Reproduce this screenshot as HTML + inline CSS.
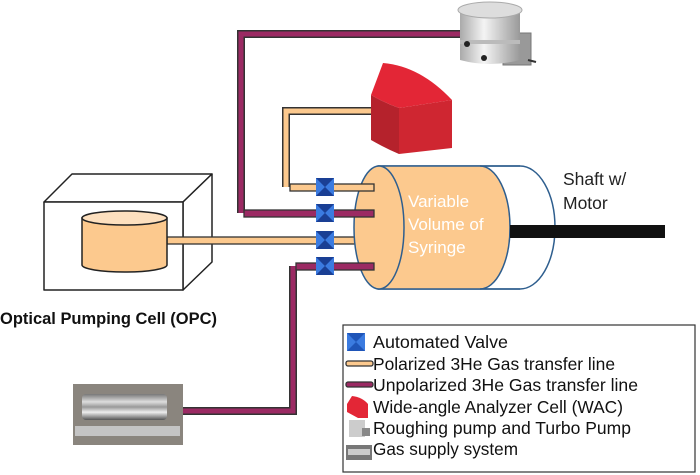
<!DOCTYPE html>
<html><head><meta charset="utf-8"><style>
html,body{margin:0;padding:0;background:#fff;}
svg{display:block;}
text{font-family:"Liberation Sans",sans-serif;}
</style></head><body>
<svg width="700" height="475" viewBox="0 0 700 475" xmlns="http://www.w3.org/2000/svg">
<defs>
<linearGradient id="metal" x1="0" y1="0" x2="0" y2="1">
<stop offset="0" stop-color="#777"/><stop offset="0.3" stop-color="#ddd"/><stop offset="0.5" stop-color="#999"/><stop offset="0.7" stop-color="#eee"/><stop offset="1" stop-color="#555"/></linearGradient>
<linearGradient id="pump" x1="0" y1="0" x2="1" y2="0">
<stop offset="0" stop-color="#aaa"/><stop offset="0.4" stop-color="#f4f4f4"/><stop offset="1" stop-color="#999"/></linearGradient>
</defs>

<path d="M241,213 V34 H462" fill="none" stroke="#333" stroke-width="8"/>
<path d="M241,213 V34 H462" fill="none" stroke="#9b2a63" stroke-width="5"/>
<path d="M286,187 V111 H373" fill="none" stroke="#333" stroke-width="8"/>
<path d="M286,187 V111 H373" fill="none" stroke="#fcc98e" stroke-width="5"/>
<path d="M175,411 H293 V266" fill="none" stroke="#333" stroke-width="8"/>
<path d="M175,411 H293 V266" fill="none" stroke="#9b2a63" stroke-width="5"/>

<g>
<rect x="503" y="33" width="28" height="32" fill="#999" stroke="#777"/>
<path d="M460,10 h60 v50 q-30,8 -60,0z" fill="url(#pump)"/>
<rect x="460" y="40" width="60" height="4" fill="#bbb"/>
<ellipse cx="490" cy="10" rx="32" ry="8" fill="#ddd" stroke="#aaa"/>
<circle cx="467" cy="44" r="3" fill="#222"/><circle cx="484" cy="58" r="3" fill="#222"/>
<line x1="528" y1="60" x2="536" y2="62" stroke="#333" stroke-width="2"/>
</g>

<path d="M371,95 L383,63 Q420,66 452,100 L399,108 Q385,103 371,95Z" fill="#e32636"/>
<path d="M371,95 Q385,103 399,108 L399,154 Q385,148 371,140Z" fill="#b5222c"/>
<path d="M399,108 L452,100 L452,148 L399,154Z" fill="#cf2631"/>

<g fill="#fff" stroke="#222" stroke-width="1.5" stroke-linejoin="round">
<path d="M44,202 L72,174 L212,174 L183,202Z"/>
<path d="M183,202 L212,174 L212,262 L183,290Z"/>
<rect x="44" y="202" width="139" height="88"/>
</g>
<rect x="167" y="237" width="208" height="7" fill="#fcc98e" stroke="#333" stroke-width="1.3"/>
<path d="M82,218 V265 A42.5,7 0 0 0 167,265 V218Z" fill="#fcc98e" stroke="#222" stroke-width="1.5"/>
<ellipse cx="124.5" cy="218" rx="42.5" ry="7" fill="#fde0bf" stroke="#222" stroke-width="1.5"/>
<text x="0" y="324" font-size="16.5" font-weight="bold" fill="#111" textLength="217" lengthAdjust="spacingAndGlyphs">Optical Pumping Cell (OPC)</text>

<path d="M378,166 H520 A35,61.5 0 0 1 520,289 H378Z" fill="#fff" stroke="#2e5e8e" stroke-width="1.5"/>
<path d="M378,166 H480 A30,61.5 0 0 1 480,289 H378Z" fill="#fcc98e"/>
<path d="M480,166 A30,61.5 0 0 1 480,289" fill="none" stroke="#2e5e8e" stroke-width="1.5"/>
<path d="M378,166 H520 M378,289 H520" stroke="#2e5e8e" stroke-width="1.5"/>
<ellipse cx="379" cy="227.5" rx="25" ry="61.5" fill="#fcc98e" stroke="#2e5e8e" stroke-width="1.5"/>
<rect x="510" y="225" width="155" height="13" fill="#111"/>
<text x="408" y="207" font-size="17" fill="#fff">Variable</text>
<text x="408" y="230" font-size="17" fill="#fff">Volume of</text>
<text x="408" y="253" font-size="17" fill="#fff">Syringe</text>
<text x="563" y="185" font-size="17.5" fill="#222">Shaft w/</text>
<text x="563" y="209" font-size="17.5" fill="#222">Motor</text>

<rect x="290" y="184" width="84" height="7" fill="#fcc98e" stroke="#333" stroke-width="1.3"/>
<rect x="244" y="210" width="130" height="7" fill="#9b2a63" stroke="#333" stroke-width="1.3"/>
<rect x="296" y="263" width="78" height="7" fill="#9b2a63" stroke="#333" stroke-width="1.3"/>

<g id="v">
<rect x="316" y="178" width="18" height="18" fill="#1f55b8"/>
<path d="M316,178 L325,187 L316,196Z M334,178 L325,187 L334,196Z" fill="#3b7be0"/>
<path d="M316,178 L325,187 L334,178Z M316,196 L325,187 L334,196Z" fill="#1a3f94"/>
</g>
<use href="#v" y="26"/><use href="#v" y="53"/><use href="#v" y="79"/>

<rect x="73" y="384" width="110" height="61" fill="#8a857e"/>
<rect x="82" y="394" width="85" height="26" rx="4" fill="url(#metal)"/>
<rect x="75" y="426" width="105" height="10" fill="#c4c4c4"/>

<rect x="343" y="325" width="352" height="147" fill="#fff" stroke="#333" stroke-width="1.2"/>
<rect x="347" y="333" width="18" height="18" fill="#1f55b8"/>
<path d="M347,333 L356,342 L347,351Z M365,333 L356,342 L365,351Z" fill="#3b7be0"/>
<rect x="346" y="361" width="27" height="5" rx="2" fill="#fcc98e" stroke="#333" stroke-width="1.3"/>
<rect x="346" y="382" width="27" height="5" rx="2" fill="#9b2a63" stroke="#333" stroke-width="1.3"/>
<path d="M347,404 L352,396 Q362,397 368,404 V418 H358 L347,412Z" fill="#e32636"/>
<rect x="349" y="420" width="16" height="17" fill="#ccc"/><rect x="362" y="428" width="8" height="8" fill="#888"/>
<rect x="346" y="445" width="26" height="15" fill="#777"/><rect x="348" y="449" width="22" height="6" fill="#ccc"/>
<g font-size="17.5" fill="#111">
<text x="373" y="348" textLength="135" lengthAdjust="spacingAndGlyphs">Automated Valve</text>
<text x="373" y="370" textLength="242" lengthAdjust="spacingAndGlyphs">Polarized 3He Gas transfer line</text>
<text x="373" y="391" textLength="265" lengthAdjust="spacingAndGlyphs">Unpolarized 3He Gas transfer line</text>
<text x="373" y="413" textLength="250" lengthAdjust="spacingAndGlyphs">Wide-angle Analyzer Cell (WAC)</text>
<text x="373" y="434" textLength="258" lengthAdjust="spacingAndGlyphs">Roughing pump and Turbo Pump</text>
<text x="373" y="455" textLength="145" lengthAdjust="spacingAndGlyphs">Gas supply system</text>
</g>
</svg>
</body></html>
